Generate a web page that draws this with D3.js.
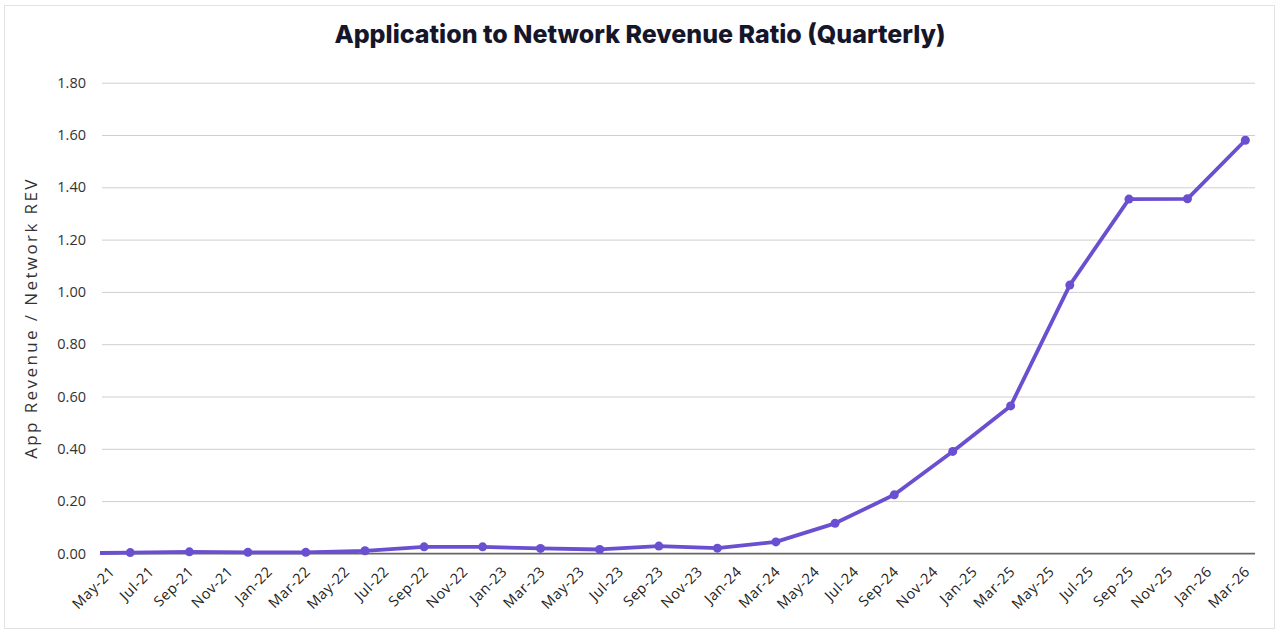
<!DOCTYPE html>
<html>
<head>
<meta charset="utf-8">
<script src="https://cdn.jsdelivr.net/npm/d3@7"></script>
<style>
  html, body { margin: 0; padding: 0; background: #fff; }
  svg { display: block; }
</style>
</head>
<body>
<svg id="chart" width="1280" height="635"></svg>
<script>
// ---- data ----
const title = "Application to Network Revenue Ratio (Quarterly)";
const yAxisTitle = "App Revenue / Network REV";
const quarterDates = [
  "2021-03-01","2021-06-01","2021-09-01","2021-12-01",
  "2022-03-01","2022-06-01","2022-09-01","2022-12-01",
  "2023-03-01","2023-06-01","2023-09-01","2023-12-01",
  "2024-03-01","2024-06-01","2024-09-01","2024-12-01",
  "2025-03-01","2025-06-01","2025-09-01","2025-12-01",
  "2026-03-01"
];
const ratioValues = [
  0.000, 0.003, 0.006, 0.004,
  0.004, 0.010, 0.025, 0.025,
  0.019, 0.015, 0.028, 0.020,
  0.044, 0.115, 0.224, 0.390,
  0.564, 1.026, 1.355, 1.356,
  1.580
];
const yTickValues = [0, 0.2, 0.4, 0.6, 0.8, 1.0, 1.2, 1.4, 1.6, 1.8];
const xDomain = ["2021-04-15", "2026-03-16"];

// ---- layout ----
const W = 1280, H = 635;
const plot = { left: 100, right: 1255, top: 82.7, bottom: 553.4 };
const purple = "#6a4fd0";

const svg = d3.select("#chart");
const parse = d3.utcParse("%Y-%m-%d");
const data = quarterDates.map((d, i) => ({ date: parse(d), value: ratioValues[i] }));

// frame
svg.append("rect")
  .attr("x", 4.5).attr("y", 5.5).attr("width", 1270).attr("height", 623)
  .attr("fill", "#fff").attr("stroke", "#e2e2e2").attr("stroke-width", 1);

const x = d3.scaleUtc()
  .domain(xDomain.map(parse))
  .range([plot.left, plot.right]);
const y = d3.scaleLinear()
  .domain([0, 1.8])
  .range([plot.bottom, plot.top]);

// title
svg.append("text")
  .attr("x", 640).attr("y", 43)
  .attr("text-anchor", "middle")
  .attr("font-family", "Inter, 'Open Sans', sans-serif")
  .attr("font-weight", 800)
  .attr("font-size", 25)
  .attr("fill", "#16162a")
  .text(title);

// y axis with gridlines
const yAxis = d3.axisLeft(y)
  .tickValues(yTickValues)
  .tickFormat(d3.format(".2f"))
  .tickSize(-(plot.right - plot.left - 2))
  .tickPadding(16);
const gy = svg.append("g")
  .attr("transform", `translate(${plot.left + 2},0)`)
  .call(yAxis);
gy.select(".domain").remove();
gy.selectAll(".tick line")
  .attr("stroke", d => d === 0 ? "#666" : "#cfcfcf")
  .attr("stroke-width", d => d === 0 ? 1.2 : 1);
gy.selectAll(".tick text")
  .attr("font-family", "'Open Sans', sans-serif")
  .attr("font-size", 14.5)
  .attr("fill", "#333");

// baseline extends to left edge
svg.append("line")
  .attr("x1", plot.left).attr("x2", plot.right)
  .attr("y1", y(0)).attr("y2", y(0))
  .attr("stroke", "#666").attr("stroke-width", 1.2);

// x axis
const xAxis = d3.axisBottom(x)
  .ticks(d3.utcMonth.every(2))
  .tickFormat(d3.utcFormat("%b-%y"))
  .tickSize(0);
const gx = svg.append("g")
  .attr("transform", `translate(0,${plot.bottom})`)
  .call(xAxis);
gx.select(".domain").remove();
gx.selectAll(".tick text")
  .attr("font-family", "'Open Sans', sans-serif")
  .attr("font-size", 14.5)
  .attr("letter-spacing", 0.6)
  .attr("fill", "#222")
  .attr("text-anchor", "end")
  .attr("dy", null)
  .attr("y", 0)
  .attr("transform", "translate(5,19) rotate(-45)");

// y axis title
svg.append("text")
  .attr("transform", `translate(37,318) rotate(-90)`)
  .attr("text-anchor", "middle")
  .attr("font-family", "'Open Sans', sans-serif")
  .attr("font-size", 17)
  .attr("letter-spacing", 2.4)
  .attr("fill", "#333")
  .text(yAxisTitle);

// clip
svg.append("clipPath").attr("id", "plotclip")
  .append("rect")
  .attr("x", plot.left).attr("y", 0)
  .attr("width", plot.right - plot.left + 10).attr("height", H);

const g = svg.append("g").attr("clip-path", "url(#plotclip)");

const line = d3.line()
  .x(d => x(d.date))
  .y(d => y(d.value));

g.append("path")
  .datum(data)
  .attr("d", line)
  .attr("fill", "none")
  .attr("stroke", purple)
  .attr("stroke-width", 3.8)
  .attr("stroke-linejoin", "round");

g.selectAll("circle.pt")
  .data(data)
  .join("circle")
  .attr("class", "pt")
  .attr("cx", d => x(d.date))
  .attr("cy", d => y(d.value))
  .attr("r", 4.5)
  .attr("fill", purple);
</script>
</body>
</html>
